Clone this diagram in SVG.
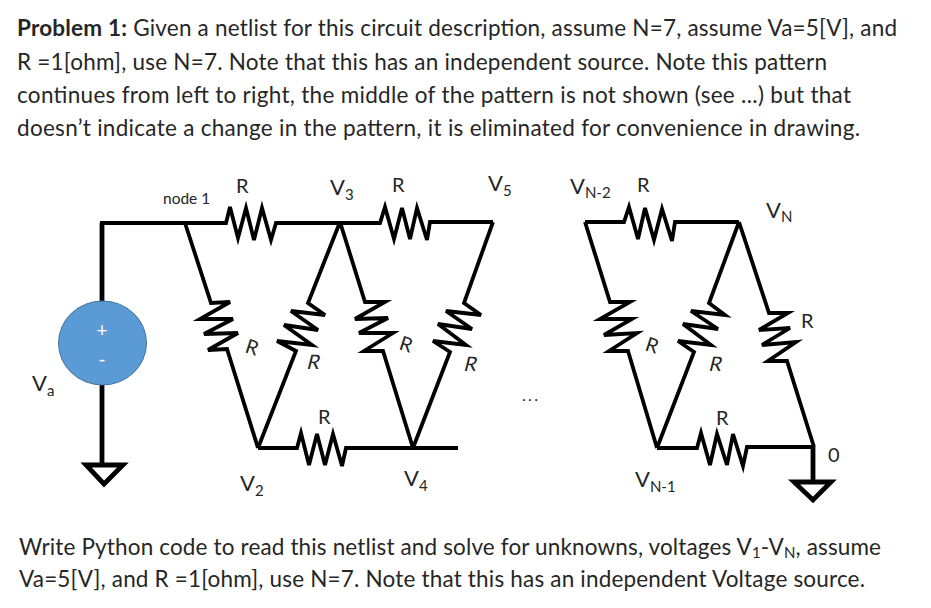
<svg xmlns="http://www.w3.org/2000/svg" width="931" height="608" viewBox="0 0 931 608">
<style>
.t{font-family:Lato,"Open Sans",sans-serif;font-size:22.500px;fill:#262626}
.b{font-weight:700}
.l{font-family:Lato,"Open Sans",sans-serif;font-size:20px;fill:#262626}
.v{font-size:22px}
.s{font-size:15px}
.w{fill:none;stroke:#000;stroke-width:3.800;stroke-linejoin:miter;stroke-linecap:butt}
.h{fill:none;stroke:#000;stroke-width:4.800}
</style>
<rect width="931" height="608" fill="#fff"/>
<g id="problem-text">
<text class="t" x="17" y="36" textLength="880"><tspan class="b">Problem 1:</tspan> Given a netlist for this circuit description, assume N=7, assume Va=5[V], and</text>
<text class="t" x="17" y="70" textLength="810">R =1[ohm], use N=7. Note that this has an independent source. Note this pattern</text>
<text class="t" x="17" y="103" textLength="834">continues from left to right, the middle of the pattern is not shown (see ...) but that</text>
<text class="t" x="17" y="136" textLength="843">doesn’t indicate a change in the pattern, it is eliminated for convenience in drawing.</text>
</g>
<g id="connectors">
<path class="h" d="M102 223V302M102 385V465"/>
<path class="w" d="M100 223H185"/>
<path class="w" d="M185 223H226L230 207L238 238L246 208L254 240L262 208L271 240L276 223H340H380L385 207L394 239L402 208L410 239L417 208L427 240L430 222H493"/>
<path class="w" d="M185 223L211 303L230 302L200 319L233 319L204 334L238 333L208 350L227 349L258 448"/>
<path class="w" d="M340 222L308 303L325 315L291 311L318 330L284 325L312 345L277 341L296 351L258 448"/>
<path class="w" d="M340 222L365 302H385L355 319L388 318L359 333L393 333L364 351H383L413 448"/>
<path class="w" d="M493 222L464 303L481 315L446 311L472 329L438 324L466 345L433 341L450 352L413 448"/>
<path class="w" d="M258 448H297L301 433L309 465L317 434L325 465L333 434L342 466L346 448H458"/>
<path class="w" d="M585 222H624L629 207L638 239L645 208L654 240L662 209L672 241L675 222H739"/>
<path class="w" d="M585 222L610 302H630L600 319L632 319L604 335L637 333L609 351H628L657 448"/>
<path class="w" d="M739 222L709 303L725 315L691 311L718 329L683 324L711 345L678 341L694 352L657 448"/>
<path class="w" d="M739 222L769 313H788L759 330L790 328L762 345L796 342L768 361H787L814 447"/>
<path class="w" d="M657 448H697L701 433L710 465L717 434L727 465L733 434L743 466L747 447H814"/>
<path class="h" d="M813 447V480"/>
</g>
<g id="source">
<ellipse cx="102.500" cy="343" rx="44" ry="42" fill="#5b9bd5" stroke="#41719c" stroke-width="1"/>
<text x="102" y="337" text-anchor="middle" font-family="Lato,sans-serif" font-size="19" fill="#fff">+</text>
<text x="102" y="366" text-anchor="middle" font-family="Lato,sans-serif" font-size="19" fill="#fff">-</text>
</g>
<g id="ground-left"><polygon class="h" points="86,465 123,465 104,484"/></g>
<g id="ground-right"><polygon class="h" points="794,482 831,482 813,500"/></g>
<g id="labels">
<text class="l v" x="32" y="391">V<tspan class="s" dy="5">a</tspan></text>
<text class="l" x="163" y="204" style="font-size:15.500px">node 1</text>
<text class="l" x="236" y="193">R</text>
<text class="l v" x="330" y="195">V<tspan class="s" dy="5">3</tspan></text>
<text class="l" x="392" y="192">R</text>
<text class="l v" x="488" y="191">V<tspan class="s" dy="5">5</tspan></text>
<text class="l v" x="570" y="194">V<tspan class="s" dy="4">N-2</tspan></text>
<text class="l" x="637" y="192">R</text>
<text class="l v" x="766" y="218">V<tspan class="s" dy="4">N</tspan></text>
<text class="l" x="801" y="328">R</text>
<text class="l" x="318" y="424">R</text>
<text class="l" x="716" y="425">R</text>
<text class="l v" x="240" y="491">V<tspan class="s" dy="5">2</tspan></text>
<text class="l v" x="404" y="486">V<tspan class="s" dy="5">4</tspan></text>
<text class="l v" x="635" y="487">V<tspan class="s" dy="5">N-1</tspan></text>
<text class="l" x="828" y="462">0</text>
<text class="l" x="522" y="401" style="font-size:16px" textLength="16">...</text>
<text class="l" transform="translate(244 352) rotate(18)">R</text>
<text class="l" transform="translate(398 349) rotate(18)">R</text>
<text class="l" transform="translate(644 350) rotate(18)">R</text>
<text class="l" transform="translate(306 369) skewX(-14)">R</text>
<text class="l" transform="translate(463 371) skewX(-14)">R</text>
<text class="l" transform="translate(708 371) skewX(-14)">R</text>
</g>
<g id="question-text">
<text class="t" x="19" y="555" textLength="862">Write Python code to read this netlist and solve for unknowns, voltages V<tspan style="font-size:15px" dy="3">1</tspan><tspan dy="-3">-V</tspan><tspan style="font-size:15px" dy="3">N</tspan><tspan dy="-3">, assume</tspan></text>
<text class="t" x="19" y="587" textLength="846">Va=5[V], and R =1[ohm], use N=7. Note that this has an independent Voltage source.</text>
</g>
</svg>
